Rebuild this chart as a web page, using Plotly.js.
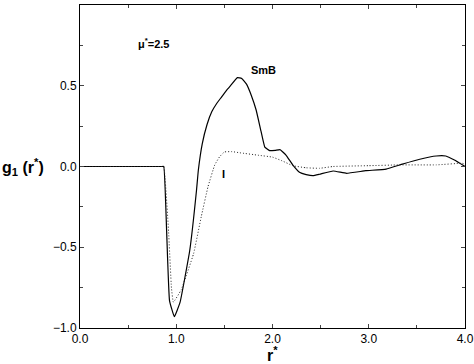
<!DOCTYPE html>
<html><head><meta charset="utf-8">
<script src="https://cdn.plot.ly/plotly-3.0.1.min.js"></script>
<style>html,body{margin:0;padding:0;background:#fff}#chart{width:474px;height:364px}</style>
</head><body><div id="chart"></div>
<script>
const smbX = [0, 0.3, 0.6, 0.8, 0.85, 0.87, 0.90, 0.93, 0.98, 1.04, 1.14, 1.21, 1.23, 1.27, 1.32, 1.37, 1.42, 1.47, 1.52, 1.57, 1.635, 1.68, 1.73, 1.78, 1.83, 1.88, 1.92, 1.97, 2.03, 2.08, 2.14, 2.21, 2.28, 2.35, 2.42, 2.49, 2.63, 2.77, 2.97, 3.18, 3.35, 3.53, 3.70, 3.80, 3.89, 4.0];
const smbY = [0, 0, 0, 0, 0, 0, -0.40, -0.83, -0.93, -0.84, -0.52, -0.15, -0.02, 0.14, 0.26, 0.34, 0.39, 0.43, 0.47, 0.505, 0.55, 0.545, 0.51, 0.44, 0.35, 0.22, 0.12, 0.098, 0.10, 0.104, 0.071, 0.01, -0.035, -0.05, -0.057, -0.048, -0.028, -0.042, -0.026, -0.016, 0.015, 0.045, 0.065, 0.065, 0.04, 0];
const isoX = [0, 0.3, 0.6, 0.8, 0.85, 0.87, 0.92, 0.95, 0.97, 1.05, 1.18, 1.26, 1.33, 1.40, 1.45, 1.50, 1.58, 1.66, 1.85, 2.00, 2.10, 2.21, 2.35, 2.49, 2.63, 3.0, 3.32, 3.70, 3.97, 4.0];
const isoY = [0, 0, 0, 0, 0, 0, -0.40, -0.75, -0.84, -0.765, -0.54, -0.31, -0.125, 0.01, 0.06, 0.09, 0.092, 0.085, 0.07, 0.058, 0.035, 0.005, -0.008, -0.011, 0, 0.005, 0.01, 0.01, 0.02, 0.015];
const xTicks = [0, 1, 2, 3, 4];
const xTickText = ['0.0', '1.0', '2.0', '3.0', '4.0'];
const yTicks = [-1, -0.5, 0, 0.5, 1];
const yTickText = ['\u22121.0', '\u22120.5', '0.0', '0.5', '1.0'];

const traces = [
  {x: smbX, y: smbY, mode: 'lines', line: {color: '#000', width: 1.2, shape: 'spline', smoothing: 0.3}, name: 'SmB'},
  {x: isoX, y: isoY, mode: 'lines', line: {color: '#222', width: 1, dash: '1px,2px', shape: 'spline', smoothing: 0.3}, name: 'I'}
];
const fontF = 'Liberation Sans, Arial, sans-serif';
const layout = {
  width: 474, height: 364,
  margin: {l: 80, r: 9, t: 5, b: 36},
  paper_bgcolor: '#fff', plot_bgcolor: '#fff',
  showlegend: false,
  font: {family: fontF, size: 12, color: '#000'},
  xaxis: {range: [0, 4], tickvals: xTicks, ticktext: xTickText, ticks: 'inside', ticklen: 4,
    minor: {dtick: 0.5, ticks: 'inside', ticklen: 3},
    showline: true, mirror: 'ticks', linecolor: '#000', linewidth: 1, showgrid: false, zeroline: false,
    tickfont: {size: 12}},
  yaxis: {range: [-1, 1], tickvals: yTicks, ticktext: yTickText, ticks: 'inside', ticklen: 4,
    minor: {dtick: 0.25, ticks: 'inside', ticklen: 3},
    showline: true, mirror: 'ticks', linecolor: '#000', linewidth: 1, showgrid: false, zeroline: false,
    tickfont: {size: 12}},
  annotations: [
    {x: 0.58, y: 0.765, xref: 'x', yref: 'y', text: '<b>\u03bc<sup>*</sup>=2.5</b>', showarrow: false, xanchor: 'left', font: {size: 11}},
    {x: 1.91, y: 0.60, xref: 'x', yref: 'y', text: '<b>SmB</b>', showarrow: false, font: {size: 11}},
    {x: 1.49, y: -0.045, xref: 'x', yref: 'y', text: '<b>I</b>', showarrow: false, font: {size: 11}},
    {x: 0, y: 0, xref: 'paper', yref: 'y', xanchor: 'left', xshift: -80, text: '<b>g<sub>1</sub> (r<sup>*</sup>)</b>', showarrow: false, font: {size: 16}},
    {x: 2.0, y: 0, xref: 'x', yref: 'paper', yanchor: 'middle', yshift: -26, text: '<b>r<sup>*</sup></b>', showarrow: false, font: {size: 16}}
  ]
};
Plotly.newPlot('chart', traces, layout, {displayModeBar: false, staticPlot: true});
</script></body></html>
